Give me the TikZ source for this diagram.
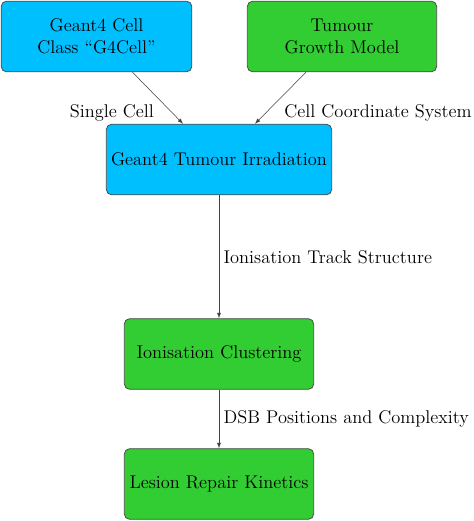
\documentclass[tikz,border=0pt]{standalone}
\usepackage{xcolor}
\usepackage{tikz}
\usetikzlibrary{shapes,arrows,positioning}

\definecolor{geantblue}{HTML}{00BFFF}
\definecolor{modelgreen}{HTML}{32CD32}

\begin{document}
\begin{tikzpicture}[
    x=0.75pt,
    y=-0.75pt,
    font=\fontsize{13.8}{16.5}\selectfont,
    geant/.style={draw=black!70, fill=geantblue, rounded corners=4pt, align=center, minimum height=53pt, line width=0.6pt},
    model/.style={draw=black!70, fill=modelgreen, rounded corners=4pt, align=center, minimum height=53pt, line width=0.6pt},
    edge/.style={-latex, draw=black!75, line width=0.4pt}
]
    \useasboundingbox (0,0) rectangle (474,521);

    % Inputs
    \node[geant, minimum width=143pt] (cell) at (96.5,36.5) {Geant4 Cell\\Class ``G4Cell''};
    \node[model, minimum width=142pt] (growth) at (342,36.5) {Tumour\\Growth Model};

    % Simulation
    \node[geant, minimum width=169pt] (irr) at (219,159.5) {Geant4 Tumour Irradiation};

    % Analysis
    \node[model, minimum width=142pt] (clust) at (219,354) {Ionisation Clustering};
    \node[model, minimum width=142pt] (repair) at (219,484) {Lesion Repair Kinetics};

    % Connections
    \draw[edge] ([xshift=27pt]cell.south) -- node[pos=0.78, left=10pt] {Single Cell} ([xshift=-27pt]irr.north);
    \draw[edge] ([xshift=-27pt]growth.south) -- node[pos=0.78, right=10pt] {Cell Coordinate System} ([xshift=27pt]irr.north);
    \draw[edge] (irr) -- node[midway, right] {Ionisation Track Structure} (clust);
    \draw[edge] (clust) -- node[midway, right] {DSB Positions and Complexity} (repair);

\end{tikzpicture}
\end{document}
